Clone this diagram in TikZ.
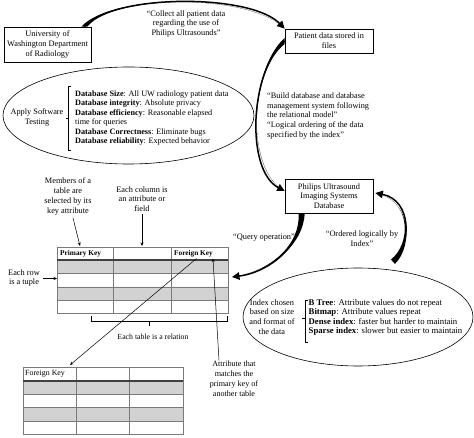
\documentclass[tikz,border=0pt]{standalone}
\usepackage{fontspec}
\setmainfont{Liberation Serif}
\usetikzlibrary{arrows.meta,calc,shapes.geometric}
\definecolor{cellgray}{HTML}{D2D2D2}
\definecolor{gridline}{HTML}{7A7A7A}
\definecolor{hdrline}{HTML}{404040}
\begin{document}
\begin{tikzpicture}[x=1pt,y=-1pt,
  every node/.style={inner sep=0pt, font=\fontsize{8.3}{9.7}\selectfont},
  box/.style={draw, line width=0.7pt, minimum width=88pt, align=center},
  oval/.style={draw, ellipse, line width=0.6pt, inner sep=0pt},
  lbl/.style={align=center},
  thin arrow/.style={line width=0.5pt, -{Stealth[length=3.5pt,width=3pt]}},
  big arrow/.style={line width=1.5pt, -{Triangle[length=7.5pt,width=7.5pt]}},
  gridl/.style={draw=gridline, line width=0.6pt},
  hdrl/.style={draw=hdrline, line width=1.2pt},
  hdr/.style={font=\bfseries\fontsize{7.3}{8}\selectfont, anchor=west}
]
\useasboundingbox (0,0) rectangle (474,438);

% boxes
\node[box, minimum width=87pt, minimum height=35pt] (uw) at (47.5,44.5) {University of\\Washington Department\\of Radiology};
\node[box, minimum height=24pt] (pd) at (329,41) {Patient data stored in\\files};
\node[box, minimum height=34pt] (ph) at (329,196) {Philips Ultrasound\\Imaging Systems\\Database};

% ellipses
\node[oval, minimum width=251pt, minimum height=97pt] (e1) at (128.5,115.5) {};
\node[oval, minimum width=230pt, minimum height=98pt] (e2) at (358,317) {};

% labels
\node[lbl, font=\fontsize{8.3}{9.3}\selectfont] (collect) at (186,24) {“Collect all patient data\\regarding the use of\\Philips Ultrasounds”};
\node[lbl] (apply) at (37,117.5) {Apply Software\\Testing};
\node[align=left, anchor=west, font=\fontsize{8.2}{9.4}\selectfont] (crit) at (75,118) {\textbf{Database Size}: All UW radiology patient data\\ \textbf{Database integrity}: Absolute privacy\\ \textbf{Database efficiency}: Reasonable elapsed\\ time for queries\\ \textbf{Database Correctness}: Eliminate bugs\\ \textbf{Database reliability}: Expected behavior};
\draw[line width=0.6pt] (70.5,86) -- (68.5,86) -- (68.5,150) -- (70.5,150);
\draw[line width=0.6pt] (68.5,118) -- (65.5,118);

\node[align=left, anchor=west, font=\fontsize{8.3}{9.9}\selectfont] (build) at (267,116) {“Build database and database\\management system following\\the relational model”\\“Logical ordering of the data\\specified by the index”};
\node[lbl] (query) at (264,238) {“Query operation”};
\node[lbl] (ordered) at (362,238.5) {“Ordered logically by\\Index”};

\node[lbl] (index) at (272,317) {Index chosen\\based on size\\and format of\\the data};
\node[align=left, anchor=west, font=\fontsize{8.7}{9.4}\selectfont] (types) at (308.5,317.5) {\textbf{B Tree}: Attribute values do not repeat\\ \textbf{Bitmap}: Attribute values repeat\\ \textbf{Dense index}: faster but harder to maintain\\ \textbf{Sparse index}: slower but easier to maintain};
\draw[line width=0.6pt] (308,300) -- (305.5,300) -- (305.5,342) -- (308,342);
\draw[line width=0.6pt] (305.5,318) -- (302,318);

\node[lbl, font=\fontsize{8.3}{10.3}\selectfont] (mem) at (68,196.5) {Members of a\\table are\\selected by its\\key attribute};
\node[lbl] (col) at (142,199) {Each column is\\an attribute or\\field};
\node[lbl] (row) at (24,278) {Each row\\is a tuple};
\node[lbl, font=\fontsize{7.8}{9}\selectfont] (rel) at (153,337) {Each table is a relation};
\node[lbl, font=\fontsize{8.1}{10}\selectfont] (attr) at (234,378.5) {Attribute that\\matches the\\primary key of\\another table};

% table 1
\fill[cellgray] (57,260) rectangle (228,273) (57,287) rectangle (228,300);
\foreach \y in {273,287,300} \draw[gridl] (57,\y) -- (228,\y);
\foreach \x in {113,171} \draw[gridl] (\x,247) -- (\x,313);
\draw[gridl] (57,247) rectangle (228,313);
\draw[hdrl] (57,260) -- (228,260);
\node[hdr] (pk) at (60,254) {Primary Key};
\node[hdr] (fk1) at (174,254) {Foreign Key};

% brace under table 1
\draw[line width=0.6pt] (91,316.5) -- (91,321) -- (227,321) -- (227,316.5);
\draw[line width=0.6pt] (149,321) -- (149,326);

% table 2
\fill[cellgray] (23,381) rectangle (183,394) (23,407) rectangle (183,421);
\foreach \y in {394,407,421} \draw[gridl] (23,\y) -- (183,\y);
\foreach \x in {76,129} \draw[gridl] (\x,367) -- (\x,434);
\draw[gridl] (23,367) rectangle (183,434);
\draw[hdrl] (23,381) -- (183,381);
\node[anchor=west, font=\fontsize{7.9}{8}\selectfont] (fk2) at (25,374) {Foreign Key};

% thin connectors
\coordinate (memE) at (80,246);
\coordinate (colE) at (142,246);
\coordinate (rowE) at (57,278.5);
\coordinate (t2top) at (70,365);
\draw[thin arrow] ($(mem.south)+(5,2)$) -- (memE);
\draw[thin arrow] ($(col.south)+(0,2)$) -- (colE);
\draw[thin arrow] ($(row.east)+(3,0.5)$) -- (rowE);
\draw[thin arrow] ($(fk1.south)+(3,1)$) -- (t2top);
\draw[thin arrow] ($(attr.north)+(-15,0)$) -- ($(fk1.south east)+(0,1)$);

% big curved arrows
\coordinate (a1s) at ($(uw.north east)+(-7,0)$);
\coordinate (a1e) at (pd.north west);
\fill ($(a1s)+(-3,0)$) .. controls (110.5,-6) and (250,-7) .. (a1e) .. controls (250,-7) and (113.5,-6) .. ($(a1s)+(3,0)$) -- cycle;
\draw[big arrow] (a1s) .. controls (112,-6) and (250,-7) .. (a1e);

\coordinate (a2s) at (pd.west);
\coordinate (a2e) at ($(ph.west)+(0,-5)$);
\fill ($(a2s)+(0,-3)$) .. controls (250,68.5) and (245,170) .. (a2e) .. controls (245,170) and (250,71.5) .. ($(a2s)+(0,3)$) -- cycle;
\draw[big arrow] (a2s) .. controls (250,70) and (245,170) .. (a2e);

\coordinate (a3s) at ($(ph.south west)+(17,0)$);
\coordinate (a3e) at (232,277);
\fill ($(a3s)+(-3,0)$) .. controls (300.5,245) and (270,272) .. (a3e) .. controls (270,272) and (303.5,245) .. ($(a3s)+(3,0)$) -- cycle;
\draw[big arrow] (a3s) .. controls (302,245) and (270,272) .. (a3e);

\coordinate (a4s) at ($(e2.north)+(35,-6)$);
\coordinate (a4e) at ($(ph.east)+(2,-3)$);
\fill ($(a4s)+(2,2.2)$) .. controls (413,246.1) and (412,200) .. (a4e) .. controls (412,200) and (411,243.9) .. ($(a4s)+(-2,-2.2)$) -- cycle;
\draw[big arrow] (a4s) .. controls (412,245) and (412,200) .. (a4e);
\end{tikzpicture}
\end{document}
